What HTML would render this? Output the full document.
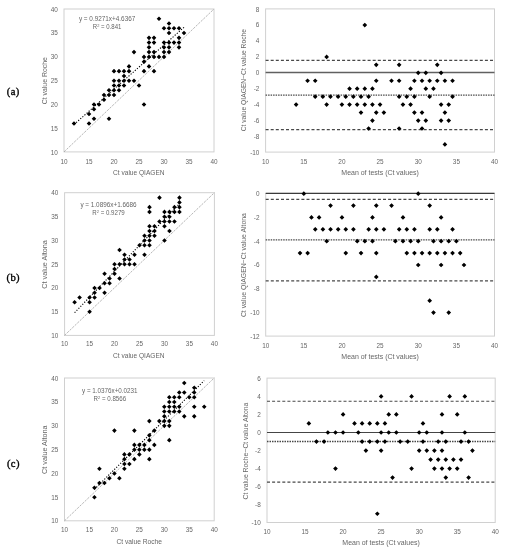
<!DOCTYPE html>
<html><head><meta charset="utf-8"><title>Figure</title>
<style>html,body{margin:0;padding:0;background:#fff}svg{display:block}text{font-family:"Liberation Sans",sans-serif;fill:#666666}.s{font-family:"Liberation Serif",serif;fill:#000;stroke:#000;stroke-width:0.35px;letter-spacing:0.35px}</style></head><body>
<svg width="507" height="550" viewBox="0 0 507 550">
<rect width="507" height="550" fill="#fff"/>
<rect x="64.0" y="9.0" width="150.0" height="142.9" fill="#fff" stroke="#d0d0d0" stroke-width="1"/>
<line x1="64.0" y1="151.9" x2="214.0" y2="9.0" stroke="#8f8f8f" stroke-width="0.65" stroke-dasharray="2.4 1.1"/>
<line x1="74.0" y1="124.5" x2="184.0" y2="27.3" stroke="#000" stroke-width="1.1" stroke-dasharray="1.2 1.6"/>
<path fill="#000" d="M74.00 121.27l2.30 2.30l-2.30 2.30l-2.30 -2.30zM89.00 121.27l2.30 2.30l-2.30 2.30l-2.30 -2.30zM94.00 116.51l2.30 2.30l-2.30 2.30l-2.30 -2.30zM109.00 116.51l2.30 2.30l-2.30 2.30l-2.30 -2.30zM89.00 111.74l2.30 2.30l-2.30 2.30l-2.30 -2.30zM94.00 106.98l2.30 2.30l-2.30 2.30l-2.30 -2.30zM94.00 102.22l2.30 2.30l-2.30 2.30l-2.30 -2.30zM99.00 102.22l2.30 2.30l-2.30 2.30l-2.30 -2.30zM144.00 102.22l2.30 2.30l-2.30 2.30l-2.30 -2.30zM104.00 97.45l2.30 2.30l-2.30 2.30l-2.30 -2.30zM104.00 92.69l2.30 2.30l-2.30 2.30l-2.30 -2.30zM109.00 92.69l2.30 2.30l-2.30 2.30l-2.30 -2.30zM114.00 92.69l2.30 2.30l-2.30 2.30l-2.30 -2.30zM109.00 87.93l2.30 2.30l-2.30 2.30l-2.30 -2.30zM114.00 87.93l2.30 2.30l-2.30 2.30l-2.30 -2.30zM119.00 87.93l2.30 2.30l-2.30 2.30l-2.30 -2.30zM114.00 83.16l2.30 2.30l-2.30 2.30l-2.30 -2.30zM119.00 83.16l2.30 2.30l-2.30 2.30l-2.30 -2.30zM124.00 83.16l2.30 2.30l-2.30 2.30l-2.30 -2.30zM139.00 83.16l2.30 2.30l-2.30 2.30l-2.30 -2.30zM114.00 78.40l2.30 2.30l-2.30 2.30l-2.30 -2.30zM119.00 78.40l2.30 2.30l-2.30 2.30l-2.30 -2.30zM124.00 78.40l2.30 2.30l-2.30 2.30l-2.30 -2.30zM129.00 78.40l2.30 2.30l-2.30 2.30l-2.30 -2.30zM134.00 78.40l2.30 2.30l-2.30 2.30l-2.30 -2.30zM124.00 73.64l2.30 2.30l-2.30 2.30l-2.30 -2.30zM114.00 68.87l2.30 2.30l-2.30 2.30l-2.30 -2.30zM119.00 68.87l2.30 2.30l-2.30 2.30l-2.30 -2.30zM124.00 68.87l2.30 2.30l-2.30 2.30l-2.30 -2.30zM129.00 68.87l2.30 2.30l-2.30 2.30l-2.30 -2.30zM144.00 68.87l2.30 2.30l-2.30 2.30l-2.30 -2.30zM154.00 68.87l2.30 2.30l-2.30 2.30l-2.30 -2.30zM129.00 64.11l2.30 2.30l-2.30 2.30l-2.30 -2.30zM149.00 64.11l2.30 2.30l-2.30 2.30l-2.30 -2.30zM144.00 59.35l2.30 2.30l-2.30 2.30l-2.30 -2.30zM144.00 54.58l2.30 2.30l-2.30 2.30l-2.30 -2.30zM149.00 54.58l2.30 2.30l-2.30 2.30l-2.30 -2.30zM154.00 54.58l2.30 2.30l-2.30 2.30l-2.30 -2.30zM159.00 54.58l2.30 2.30l-2.30 2.30l-2.30 -2.30zM164.00 54.58l2.30 2.30l-2.30 2.30l-2.30 -2.30zM134.00 49.82l2.30 2.30l-2.30 2.30l-2.30 -2.30zM149.00 49.82l2.30 2.30l-2.30 2.30l-2.30 -2.30zM154.00 49.82l2.30 2.30l-2.30 2.30l-2.30 -2.30zM164.00 49.82l2.30 2.30l-2.30 2.30l-2.30 -2.30zM169.00 49.82l2.30 2.30l-2.30 2.30l-2.30 -2.30zM149.00 45.06l2.30 2.30l-2.30 2.30l-2.30 -2.30zM164.00 45.06l2.30 2.30l-2.30 2.30l-2.30 -2.30zM169.00 45.06l2.30 2.30l-2.30 2.30l-2.30 -2.30zM179.00 45.06l2.30 2.30l-2.30 2.30l-2.30 -2.30zM149.00 40.29l2.30 2.30l-2.30 2.30l-2.30 -2.30zM154.00 40.29l2.30 2.30l-2.30 2.30l-2.30 -2.30zM164.00 40.29l2.30 2.30l-2.30 2.30l-2.30 -2.30zM169.00 40.29l2.30 2.30l-2.30 2.30l-2.30 -2.30zM174.00 40.29l2.30 2.30l-2.30 2.30l-2.30 -2.30zM179.00 40.29l2.30 2.30l-2.30 2.30l-2.30 -2.30zM149.00 35.53l2.30 2.30l-2.30 2.30l-2.30 -2.30zM154.00 35.53l2.30 2.30l-2.30 2.30l-2.30 -2.30zM179.00 35.53l2.30 2.30l-2.30 2.30l-2.30 -2.30zM169.00 30.77l2.30 2.30l-2.30 2.30l-2.30 -2.30zM184.00 30.77l2.30 2.30l-2.30 2.30l-2.30 -2.30zM164.00 26.00l2.30 2.30l-2.30 2.30l-2.30 -2.30zM169.00 26.00l2.30 2.30l-2.30 2.30l-2.30 -2.30zM174.00 26.00l2.30 2.30l-2.30 2.30l-2.30 -2.30zM179.00 26.00l2.30 2.30l-2.30 2.30l-2.30 -2.30zM169.00 21.24l2.30 2.30l-2.30 2.30l-2.30 -2.30zM159.00 16.48l2.30 2.30l-2.30 2.30l-2.30 -2.30z"/>
<text x="64.0" y="163.6" font-size="6.40" text-anchor="middle">10</text>
<text x="57.8" y="154.5" font-size="6.40" text-anchor="end">10</text>
<text x="89.0" y="163.6" font-size="6.40" text-anchor="middle">15</text>
<text x="57.8" y="130.7" font-size="6.40" text-anchor="end">15</text>
<text x="114.0" y="163.6" font-size="6.40" text-anchor="middle">20</text>
<text x="57.8" y="106.9" font-size="6.40" text-anchor="end">20</text>
<text x="139.0" y="163.6" font-size="6.40" text-anchor="middle">25</text>
<text x="57.8" y="83.0" font-size="6.40" text-anchor="end">25</text>
<text x="164.0" y="163.6" font-size="6.40" text-anchor="middle">30</text>
<text x="57.8" y="59.2" font-size="6.40" text-anchor="end">30</text>
<text x="189.0" y="163.6" font-size="6.40" text-anchor="middle">35</text>
<text x="57.8" y="35.4" font-size="6.40" text-anchor="end">35</text>
<text x="214.0" y="163.6" font-size="6.40" text-anchor="middle">40</text>
<text x="57.8" y="11.6" font-size="6.40" text-anchor="end">40</text>
<text x="107.1" y="21.3" font-size="6.40" text-anchor="middle" textLength="56.4" lengthAdjust="spacingAndGlyphs">y = 0.9271x+4.6367</text>
<text x="107.1" y="29.2" font-size="6.40" text-anchor="middle" textLength="28.6" lengthAdjust="spacingAndGlyphs">R<tspan dy="-2.2" font-size="4.2">2</tspan><tspan dy="2.2"> = 0.841</tspan></text>
<text x="138.8" y="174.9" font-size="6.80" text-anchor="middle" textLength="51.5" lengthAdjust="spacingAndGlyphs">Ct value QIAGEN</text>
<text transform="translate(46.8 80.7) rotate(-90)" font-size="6.80" text-anchor="middle" textLength="47.0" lengthAdjust="spacingAndGlyphs">Ct value Roche</text>
<rect x="64.6" y="192.7" width="149.8" height="142.7" fill="#fff" stroke="#d0d0d0" stroke-width="1"/>
<line x1="64.6" y1="335.3" x2="214.4" y2="192.7" stroke="#8f8f8f" stroke-width="0.65" stroke-dasharray="2.4 1.1"/>
<line x1="74.6" y1="312.7" x2="179.4" y2="203.9" stroke="#000" stroke-width="1.1" stroke-dasharray="1.2 1.6"/>
<path fill="#000" d="M74.59 299.96l2.30 2.30l-2.30 2.30l-2.30 -2.30zM79.58 295.21l2.30 2.30l-2.30 2.30l-2.30 -2.30zM89.57 309.48l2.30 2.30l-2.30 2.30l-2.30 -2.30zM89.57 299.96l2.30 2.30l-2.30 2.30l-2.30 -2.30zM89.57 295.21l2.30 2.30l-2.30 2.30l-2.30 -2.30zM94.56 295.21l2.30 2.30l-2.30 2.30l-2.30 -2.30zM94.56 290.45l2.30 2.30l-2.30 2.30l-2.30 -2.30zM94.56 285.70l2.30 2.30l-2.30 2.30l-2.30 -2.30zM99.55 285.70l2.30 2.30l-2.30 2.30l-2.30 -2.30zM104.55 290.45l2.30 2.30l-2.30 2.30l-2.30 -2.30zM104.55 280.94l2.30 2.30l-2.30 2.30l-2.30 -2.30zM109.54 280.94l2.30 2.30l-2.30 2.30l-2.30 -2.30zM109.54 276.19l2.30 2.30l-2.30 2.30l-2.30 -2.30zM104.55 271.44l2.30 2.30l-2.30 2.30l-2.30 -2.30zM114.53 271.44l2.30 2.30l-2.30 2.30l-2.30 -2.30zM119.53 276.19l2.30 2.30l-2.30 2.30l-2.30 -2.30zM114.53 266.68l2.30 2.30l-2.30 2.30l-2.30 -2.30zM114.53 261.93l2.30 2.30l-2.30 2.30l-2.30 -2.30zM119.53 261.93l2.30 2.30l-2.30 2.30l-2.30 -2.30zM124.52 261.93l2.30 2.30l-2.30 2.30l-2.30 -2.30zM129.51 261.93l2.30 2.30l-2.30 2.30l-2.30 -2.30zM134.51 261.93l2.30 2.30l-2.30 2.30l-2.30 -2.30zM124.52 257.17l2.30 2.30l-2.30 2.30l-2.30 -2.30zM129.51 257.17l2.30 2.30l-2.30 2.30l-2.30 -2.30zM124.52 252.42l2.30 2.30l-2.30 2.30l-2.30 -2.30zM134.51 252.42l2.30 2.30l-2.30 2.30l-2.30 -2.30zM144.49 252.42l2.30 2.30l-2.30 2.30l-2.30 -2.30zM119.53 247.66l2.30 2.30l-2.30 2.30l-2.30 -2.30zM139.50 242.91l2.30 2.30l-2.30 2.30l-2.30 -2.30zM144.49 242.91l2.30 2.30l-2.30 2.30l-2.30 -2.30zM149.49 242.91l2.30 2.30l-2.30 2.30l-2.30 -2.30zM144.49 238.15l2.30 2.30l-2.30 2.30l-2.30 -2.30zM149.49 238.15l2.30 2.30l-2.30 2.30l-2.30 -2.30zM164.47 238.15l2.30 2.30l-2.30 2.30l-2.30 -2.30zM144.49 233.39l2.30 2.30l-2.30 2.30l-2.30 -2.30zM149.49 233.39l2.30 2.30l-2.30 2.30l-2.30 -2.30zM154.48 233.39l2.30 2.30l-2.30 2.30l-2.30 -2.30zM149.49 228.64l2.30 2.30l-2.30 2.30l-2.30 -2.30zM154.48 228.64l2.30 2.30l-2.30 2.30l-2.30 -2.30zM169.46 228.64l2.30 2.30l-2.30 2.30l-2.30 -2.30zM149.49 223.88l2.30 2.30l-2.30 2.30l-2.30 -2.30zM154.48 223.88l2.30 2.30l-2.30 2.30l-2.30 -2.30zM164.47 223.88l2.30 2.30l-2.30 2.30l-2.30 -2.30zM159.47 219.13l2.30 2.30l-2.30 2.30l-2.30 -2.30zM164.47 219.13l2.30 2.30l-2.30 2.30l-2.30 -2.30zM169.46 219.13l2.30 2.30l-2.30 2.30l-2.30 -2.30zM174.45 219.13l2.30 2.30l-2.30 2.30l-2.30 -2.30zM164.47 214.38l2.30 2.30l-2.30 2.30l-2.30 -2.30zM169.46 214.38l2.30 2.30l-2.30 2.30l-2.30 -2.30zM149.49 209.62l2.30 2.30l-2.30 2.30l-2.30 -2.30zM164.47 209.62l2.30 2.30l-2.30 2.30l-2.30 -2.30zM169.46 209.62l2.30 2.30l-2.30 2.30l-2.30 -2.30zM174.45 209.62l2.30 2.30l-2.30 2.30l-2.30 -2.30zM179.45 209.62l2.30 2.30l-2.30 2.30l-2.30 -2.30zM149.49 204.87l2.30 2.30l-2.30 2.30l-2.30 -2.30zM174.45 204.87l2.30 2.30l-2.30 2.30l-2.30 -2.30zM179.45 204.87l2.30 2.30l-2.30 2.30l-2.30 -2.30zM179.45 200.11l2.30 2.30l-2.30 2.30l-2.30 -2.30zM159.47 195.35l2.30 2.30l-2.30 2.30l-2.30 -2.30zM179.45 195.35l2.30 2.30l-2.30 2.30l-2.30 -2.30z"/>
<text x="64.6" y="346.3" font-size="6.40" text-anchor="middle">10</text>
<text x="58.4" y="337.9" font-size="6.40" text-anchor="end">10</text>
<text x="89.6" y="346.3" font-size="6.40" text-anchor="middle">15</text>
<text x="58.4" y="314.1" font-size="6.40" text-anchor="end">15</text>
<text x="114.5" y="346.3" font-size="6.40" text-anchor="middle">20</text>
<text x="58.4" y="290.4" font-size="6.40" text-anchor="end">20</text>
<text x="139.5" y="346.3" font-size="6.40" text-anchor="middle">25</text>
<text x="58.4" y="266.6" font-size="6.40" text-anchor="end">25</text>
<text x="164.5" y="346.3" font-size="6.40" text-anchor="middle">30</text>
<text x="58.4" y="242.8" font-size="6.40" text-anchor="end">30</text>
<text x="189.4" y="346.3" font-size="6.40" text-anchor="middle">35</text>
<text x="58.4" y="219.0" font-size="6.40" text-anchor="end">35</text>
<text x="214.4" y="346.3" font-size="6.40" text-anchor="middle">40</text>
<text x="58.4" y="195.2" font-size="6.40" text-anchor="end">40</text>
<text x="108.5" y="207.3" font-size="6.40" text-anchor="middle" textLength="56.2" lengthAdjust="spacingAndGlyphs">y = 1.0896x+1.6686</text>
<text x="108.5" y="215.1" font-size="6.40" text-anchor="middle" textLength="32.5" lengthAdjust="spacingAndGlyphs">R<tspan dy="-2.2" font-size="4.2">2</tspan><tspan dy="2.2"> = 0.9279</tspan></text>
<text x="138.8" y="358.1" font-size="6.80" text-anchor="middle" textLength="51.5" lengthAdjust="spacingAndGlyphs">Ct value QIAGEN</text>
<text transform="translate(47.0 264.4) rotate(-90)" font-size="6.80" text-anchor="middle" textLength="48.5" lengthAdjust="spacingAndGlyphs">Ct value Altona</text>
<rect x="64.5" y="378.0" width="149.7" height="142.8" fill="#fff" stroke="#d0d0d0" stroke-width="1"/>
<line x1="64.5" y1="520.8" x2="214.2" y2="378.0" stroke="#8f8f8f" stroke-width="0.65" stroke-dasharray="2.4 1.1"/>
<line x1="94.4" y1="489.3" x2="204.2" y2="380.6" stroke="#000" stroke-width="1.1" stroke-dasharray="1.2 1.6"/>
<path fill="#000" d="M94.44 494.95l2.30 2.30l-2.30 2.30l-2.30 -2.30zM94.44 485.43l2.30 2.30l-2.30 2.30l-2.30 -2.30zM99.43 480.67l2.30 2.30l-2.30 2.30l-2.30 -2.30zM99.43 466.39l2.30 2.30l-2.30 2.30l-2.30 -2.30zM104.42 480.67l2.30 2.30l-2.30 2.30l-2.30 -2.30zM109.41 475.91l2.30 2.30l-2.30 2.30l-2.30 -2.30zM114.40 471.15l2.30 2.30l-2.30 2.30l-2.30 -2.30zM119.39 475.91l2.30 2.30l-2.30 2.30l-2.30 -2.30zM124.38 466.39l2.30 2.30l-2.30 2.30l-2.30 -2.30zM124.38 461.63l2.30 2.30l-2.30 2.30l-2.30 -2.30zM129.37 461.63l2.30 2.30l-2.30 2.30l-2.30 -2.30zM124.38 456.87l2.30 2.30l-2.30 2.30l-2.30 -2.30zM134.36 456.87l2.30 2.30l-2.30 2.30l-2.30 -2.30zM149.33 456.87l2.30 2.30l-2.30 2.30l-2.30 -2.30zM124.38 452.11l2.30 2.30l-2.30 2.30l-2.30 -2.30zM129.37 452.11l2.30 2.30l-2.30 2.30l-2.30 -2.30zM139.35 452.11l2.30 2.30l-2.30 2.30l-2.30 -2.30zM134.36 447.35l2.30 2.30l-2.30 2.30l-2.30 -2.30zM139.35 447.35l2.30 2.30l-2.30 2.30l-2.30 -2.30zM144.34 447.35l2.30 2.30l-2.30 2.30l-2.30 -2.30zM149.33 447.35l2.30 2.30l-2.30 2.30l-2.30 -2.30zM134.36 442.59l2.30 2.30l-2.30 2.30l-2.30 -2.30zM139.35 442.59l2.30 2.30l-2.30 2.30l-2.30 -2.30zM144.34 442.59l2.30 2.30l-2.30 2.30l-2.30 -2.30zM154.32 442.59l2.30 2.30l-2.30 2.30l-2.30 -2.30zM149.33 437.83l2.30 2.30l-2.30 2.30l-2.30 -2.30zM169.29 437.83l2.30 2.30l-2.30 2.30l-2.30 -2.30zM149.33 433.07l2.30 2.30l-2.30 2.30l-2.30 -2.30zM114.40 428.31l2.30 2.30l-2.30 2.30l-2.30 -2.30zM134.36 428.31l2.30 2.30l-2.30 2.30l-2.30 -2.30zM154.32 428.31l2.30 2.30l-2.30 2.30l-2.30 -2.30zM164.30 423.55l2.30 2.30l-2.30 2.30l-2.30 -2.30zM169.29 423.55l2.30 2.30l-2.30 2.30l-2.30 -2.30zM149.33 418.79l2.30 2.30l-2.30 2.30l-2.30 -2.30zM159.31 418.79l2.30 2.30l-2.30 2.30l-2.30 -2.30zM164.30 418.79l2.30 2.30l-2.30 2.30l-2.30 -2.30zM169.29 418.79l2.30 2.30l-2.30 2.30l-2.30 -2.30zM164.30 414.03l2.30 2.30l-2.30 2.30l-2.30 -2.30zM184.26 414.03l2.30 2.30l-2.30 2.30l-2.30 -2.30zM194.24 414.03l2.30 2.30l-2.30 2.30l-2.30 -2.30zM164.30 409.27l2.30 2.30l-2.30 2.30l-2.30 -2.30zM169.29 409.27l2.30 2.30l-2.30 2.30l-2.30 -2.30zM174.28 409.27l2.30 2.30l-2.30 2.30l-2.30 -2.30zM179.27 409.27l2.30 2.30l-2.30 2.30l-2.30 -2.30zM164.30 404.51l2.30 2.30l-2.30 2.30l-2.30 -2.30zM169.29 404.51l2.30 2.30l-2.30 2.30l-2.30 -2.30zM174.28 404.51l2.30 2.30l-2.30 2.30l-2.30 -2.30zM179.27 404.51l2.30 2.30l-2.30 2.30l-2.30 -2.30zM194.24 404.51l2.30 2.30l-2.30 2.30l-2.30 -2.30zM204.22 404.51l2.30 2.30l-2.30 2.30l-2.30 -2.30zM169.29 399.75l2.30 2.30l-2.30 2.30l-2.30 -2.30zM174.28 399.75l2.30 2.30l-2.30 2.30l-2.30 -2.30zM169.29 394.99l2.30 2.30l-2.30 2.30l-2.30 -2.30zM174.28 394.99l2.30 2.30l-2.30 2.30l-2.30 -2.30zM179.27 394.99l2.30 2.30l-2.30 2.30l-2.30 -2.30zM189.25 394.99l2.30 2.30l-2.30 2.30l-2.30 -2.30zM194.24 394.99l2.30 2.30l-2.30 2.30l-2.30 -2.30zM179.27 390.23l2.30 2.30l-2.30 2.30l-2.30 -2.30zM184.26 390.23l2.30 2.30l-2.30 2.30l-2.30 -2.30zM194.24 390.23l2.30 2.30l-2.30 2.30l-2.30 -2.30zM194.24 385.47l2.30 2.30l-2.30 2.30l-2.30 -2.30zM184.26 380.71l2.30 2.30l-2.30 2.30l-2.30 -2.30z"/>
<text x="64.5" y="532.3" font-size="6.40" text-anchor="middle">10</text>
<text x="58.3" y="523.4" font-size="6.40" text-anchor="end">10</text>
<text x="89.4" y="532.3" font-size="6.40" text-anchor="middle">15</text>
<text x="58.3" y="499.6" font-size="6.40" text-anchor="end">15</text>
<text x="114.4" y="532.3" font-size="6.40" text-anchor="middle">20</text>
<text x="58.3" y="475.8" font-size="6.40" text-anchor="end">20</text>
<text x="139.3" y="532.3" font-size="6.40" text-anchor="middle">25</text>
<text x="58.3" y="452.0" font-size="6.40" text-anchor="end">25</text>
<text x="164.3" y="532.3" font-size="6.40" text-anchor="middle">30</text>
<text x="58.3" y="428.2" font-size="6.40" text-anchor="end">30</text>
<text x="189.2" y="532.3" font-size="6.40" text-anchor="middle">35</text>
<text x="58.3" y="404.4" font-size="6.40" text-anchor="end">35</text>
<text x="214.2" y="532.3" font-size="6.40" text-anchor="middle">40</text>
<text x="58.3" y="380.6" font-size="6.40" text-anchor="end">40</text>
<text x="109.8" y="392.6" font-size="6.40" text-anchor="middle" textLength="55.6" lengthAdjust="spacingAndGlyphs">y = 1.0376x+0.0231</text>
<text x="109.8" y="400.7" font-size="6.40" text-anchor="middle" textLength="32.6" lengthAdjust="spacingAndGlyphs">R<tspan dy="-2.2" font-size="4.2">2</tspan><tspan dy="2.2"> = 0.8566</tspan></text>
<text x="139.2" y="543.6" font-size="6.80" text-anchor="middle" textLength="45.6" lengthAdjust="spacingAndGlyphs">Ct value Roche</text>
<text transform="translate(46.6 449.7) rotate(-90)" font-size="6.80" text-anchor="middle" textLength="48.5" lengthAdjust="spacingAndGlyphs">Ct value Altona</text>
<rect x="265.6" y="8.9" width="228.9" height="143.2" fill="#fff" stroke="#d0d0d0" stroke-width="1"/>
<line x1="265.6" y1="72.6" x2="494.5" y2="72.6" stroke="#606060" stroke-width="1.50"/>
<line x1="265.6" y1="60.4" x2="494.5" y2="60.4" stroke="#484848" stroke-width="1.30" stroke-dasharray="3 2.1"/>
<line x1="265.6" y1="129.6" x2="494.5" y2="129.6" stroke="#484848" stroke-width="1.30" stroke-dasharray="3 2.1"/>
<line x1="265.6" y1="95.1" x2="494.5" y2="95.1" stroke="#484848" stroke-width="1.3" stroke-dasharray="1.5 1"/>
<path fill="#000" d="M296.12 102.27l2.35 2.35l-2.35 2.35l-2.35 -2.35zM307.56 78.40l2.35 2.35l-2.35 2.35l-2.35 -2.35zM315.19 94.31l2.35 2.35l-2.35 2.35l-2.35 -2.35zM315.19 78.40l2.35 2.35l-2.35 2.35l-2.35 -2.35zM322.83 94.31l2.35 2.35l-2.35 2.35l-2.35 -2.35zM326.64 102.27l2.35 2.35l-2.35 2.35l-2.35 -2.35zM326.64 54.53l2.35 2.35l-2.35 2.35l-2.35 -2.35zM330.46 94.31l2.35 2.35l-2.35 2.35l-2.35 -2.35zM338.09 94.31l2.35 2.35l-2.35 2.35l-2.35 -2.35zM341.90 102.27l2.35 2.35l-2.35 2.35l-2.35 -2.35zM345.72 94.31l2.35 2.35l-2.35 2.35l-2.35 -2.35zM349.53 102.27l2.35 2.35l-2.35 2.35l-2.35 -2.35zM349.53 86.36l2.35 2.35l-2.35 2.35l-2.35 -2.35zM353.35 94.31l2.35 2.35l-2.35 2.35l-2.35 -2.35zM357.16 102.27l2.35 2.35l-2.35 2.35l-2.35 -2.35zM357.16 86.36l2.35 2.35l-2.35 2.35l-2.35 -2.35zM360.98 110.22l2.35 2.35l-2.35 2.35l-2.35 -2.35zM360.98 94.31l2.35 2.35l-2.35 2.35l-2.35 -2.35zM364.79 102.27l2.35 2.35l-2.35 2.35l-2.35 -2.35zM364.79 86.36l2.35 2.35l-2.35 2.35l-2.35 -2.35zM364.79 22.71l2.35 2.35l-2.35 2.35l-2.35 -2.35zM368.61 126.13l2.35 2.35l-2.35 2.35l-2.35 -2.35zM368.61 94.31l2.35 2.35l-2.35 2.35l-2.35 -2.35zM372.42 118.18l2.35 2.35l-2.35 2.35l-2.35 -2.35zM372.42 102.27l2.35 2.35l-2.35 2.35l-2.35 -2.35zM372.42 86.36l2.35 2.35l-2.35 2.35l-2.35 -2.35zM376.24 110.22l2.35 2.35l-2.35 2.35l-2.35 -2.35zM376.24 78.40l2.35 2.35l-2.35 2.35l-2.35 -2.35zM376.24 62.49l2.35 2.35l-2.35 2.35l-2.35 -2.35zM380.05 102.27l2.35 2.35l-2.35 2.35l-2.35 -2.35zM383.87 110.22l2.35 2.35l-2.35 2.35l-2.35 -2.35zM391.50 78.40l2.35 2.35l-2.35 2.35l-2.35 -2.35zM399.12 126.13l2.35 2.35l-2.35 2.35l-2.35 -2.35zM399.12 94.31l2.35 2.35l-2.35 2.35l-2.35 -2.35zM399.12 78.40l2.35 2.35l-2.35 2.35l-2.35 -2.35zM399.12 62.49l2.35 2.35l-2.35 2.35l-2.35 -2.35zM402.94 102.27l2.35 2.35l-2.35 2.35l-2.35 -2.35zM406.75 94.31l2.35 2.35l-2.35 2.35l-2.35 -2.35zM410.57 102.27l2.35 2.35l-2.35 2.35l-2.35 -2.35zM410.57 86.36l2.35 2.35l-2.35 2.35l-2.35 -2.35zM414.38 110.22l2.35 2.35l-2.35 2.35l-2.35 -2.35zM414.38 94.31l2.35 2.35l-2.35 2.35l-2.35 -2.35zM414.38 78.40l2.35 2.35l-2.35 2.35l-2.35 -2.35zM418.20 118.18l2.35 2.35l-2.35 2.35l-2.35 -2.35zM418.20 70.44l2.35 2.35l-2.35 2.35l-2.35 -2.35zM422.01 126.13l2.35 2.35l-2.35 2.35l-2.35 -2.35zM422.01 110.22l2.35 2.35l-2.35 2.35l-2.35 -2.35zM422.01 78.40l2.35 2.35l-2.35 2.35l-2.35 -2.35zM425.83 118.18l2.35 2.35l-2.35 2.35l-2.35 -2.35zM425.83 86.36l2.35 2.35l-2.35 2.35l-2.35 -2.35zM425.83 70.44l2.35 2.35l-2.35 2.35l-2.35 -2.35zM429.64 94.31l2.35 2.35l-2.35 2.35l-2.35 -2.35zM429.64 78.40l2.35 2.35l-2.35 2.35l-2.35 -2.35zM433.46 86.36l2.35 2.35l-2.35 2.35l-2.35 -2.35zM437.27 78.40l2.35 2.35l-2.35 2.35l-2.35 -2.35zM437.27 62.49l2.35 2.35l-2.35 2.35l-2.35 -2.35zM441.09 118.18l2.35 2.35l-2.35 2.35l-2.35 -2.35zM441.09 102.27l2.35 2.35l-2.35 2.35l-2.35 -2.35zM441.09 70.44l2.35 2.35l-2.35 2.35l-2.35 -2.35zM444.90 142.04l2.35 2.35l-2.35 2.35l-2.35 -2.35zM444.90 110.22l2.35 2.35l-2.35 2.35l-2.35 -2.35zM444.90 78.40l2.35 2.35l-2.35 2.35l-2.35 -2.35zM448.72 118.18l2.35 2.35l-2.35 2.35l-2.35 -2.35zM448.72 102.27l2.35 2.35l-2.35 2.35l-2.35 -2.35zM452.53 94.31l2.35 2.35l-2.35 2.35l-2.35 -2.35zM452.53 78.40l2.35 2.35l-2.35 2.35l-2.35 -2.35z"/>
<text x="265.6" y="163.6" font-size="6.40" text-anchor="middle">10</text>
<text x="303.8" y="163.6" font-size="6.40" text-anchor="middle">15</text>
<text x="341.9" y="163.6" font-size="6.40" text-anchor="middle">20</text>
<text x="380.1" y="163.6" font-size="6.40" text-anchor="middle">25</text>
<text x="418.2" y="163.6" font-size="6.40" text-anchor="middle">30</text>
<text x="456.4" y="163.6" font-size="6.40" text-anchor="middle">35</text>
<text x="494.5" y="163.6" font-size="6.40" text-anchor="middle">40</text>
<text x="259.4" y="11.5" font-size="6.40" text-anchor="end">8</text>
<text x="259.4" y="27.4" font-size="6.40" text-anchor="end">6</text>
<text x="259.4" y="43.3" font-size="6.40" text-anchor="end">4</text>
<text x="259.4" y="59.2" font-size="6.40" text-anchor="end">2</text>
<text x="259.4" y="75.1" font-size="6.40" text-anchor="end">0</text>
<text x="259.4" y="91.1" font-size="6.40" text-anchor="end">-2</text>
<text x="259.4" y="107.0" font-size="6.40" text-anchor="end">-4</text>
<text x="259.4" y="122.9" font-size="6.40" text-anchor="end">-6</text>
<text x="259.4" y="138.8" font-size="6.40" text-anchor="end">-8</text>
<text x="259.4" y="154.7" font-size="6.40" text-anchor="end">-10</text>
<text x="380.1" y="175.1" font-size="6.80" text-anchor="middle" textLength="77.5" lengthAdjust="spacingAndGlyphs">Mean of tests (Ct values)</text>
<text transform="translate(246.4 80.2) rotate(-90)" font-size="6.80" text-anchor="middle" textLength="102.3" lengthAdjust="spacingAndGlyphs">Ct value QIAGEN−Ct value Roche</text>
<rect x="265.7" y="193.4" width="228.8" height="142.7" fill="#fff" stroke="#d0d0d0" stroke-width="1"/>
<line x1="265.7" y1="193.4" x2="494.5" y2="193.4" stroke="#3a3a3a" stroke-width="1.30"/>
<line x1="265.7" y1="199.3" x2="494.5" y2="199.3" stroke="#484848" stroke-width="1.25" stroke-dasharray="3 2.1"/>
<line x1="265.7" y1="280.8" x2="494.5" y2="280.8" stroke="#484848" stroke-width="1.25" stroke-dasharray="3 2.1"/>
<line x1="265.7" y1="239.8" x2="494.5" y2="239.8" stroke="#484848" stroke-width="1.3" stroke-dasharray="1.5 1"/>
<path fill="#000" d="M300.02 250.76l2.35 2.35l-2.35 2.35l-2.35 -2.35zM303.83 191.30l2.35 2.35l-2.35 2.35l-2.35 -2.35zM307.65 250.76l2.35 2.35l-2.35 2.35l-2.35 -2.35zM311.46 215.08l2.35 2.35l-2.35 2.35l-2.35 -2.35zM315.27 226.98l2.35 2.35l-2.35 2.35l-2.35 -2.35zM319.09 215.08l2.35 2.35l-2.35 2.35l-2.35 -2.35zM322.90 226.98l2.35 2.35l-2.35 2.35l-2.35 -2.35zM326.71 238.87l2.35 2.35l-2.35 2.35l-2.35 -2.35zM330.53 226.98l2.35 2.35l-2.35 2.35l-2.35 -2.35zM330.53 203.19l2.35 2.35l-2.35 2.35l-2.35 -2.35zM338.15 226.98l2.35 2.35l-2.35 2.35l-2.35 -2.35zM341.97 215.08l2.35 2.35l-2.35 2.35l-2.35 -2.35zM345.78 250.76l2.35 2.35l-2.35 2.35l-2.35 -2.35zM345.78 226.98l2.35 2.35l-2.35 2.35l-2.35 -2.35zM353.41 226.98l2.35 2.35l-2.35 2.35l-2.35 -2.35zM353.41 203.19l2.35 2.35l-2.35 2.35l-2.35 -2.35zM357.22 238.87l2.35 2.35l-2.35 2.35l-2.35 -2.35zM361.03 250.76l2.35 2.35l-2.35 2.35l-2.35 -2.35zM364.85 238.87l2.35 2.35l-2.35 2.35l-2.35 -2.35zM368.66 226.98l2.35 2.35l-2.35 2.35l-2.35 -2.35zM372.47 238.87l2.35 2.35l-2.35 2.35l-2.35 -2.35zM372.47 215.08l2.35 2.35l-2.35 2.35l-2.35 -2.35zM376.29 274.54l2.35 2.35l-2.35 2.35l-2.35 -2.35zM376.29 250.76l2.35 2.35l-2.35 2.35l-2.35 -2.35zM376.29 226.98l2.35 2.35l-2.35 2.35l-2.35 -2.35zM376.29 203.19l2.35 2.35l-2.35 2.35l-2.35 -2.35zM383.91 226.98l2.35 2.35l-2.35 2.35l-2.35 -2.35zM391.54 203.19l2.35 2.35l-2.35 2.35l-2.35 -2.35zM395.35 238.87l2.35 2.35l-2.35 2.35l-2.35 -2.35zM399.17 226.98l2.35 2.35l-2.35 2.35l-2.35 -2.35zM402.98 238.87l2.35 2.35l-2.35 2.35l-2.35 -2.35zM402.98 215.08l2.35 2.35l-2.35 2.35l-2.35 -2.35zM406.79 250.76l2.35 2.35l-2.35 2.35l-2.35 -2.35zM406.79 226.98l2.35 2.35l-2.35 2.35l-2.35 -2.35zM410.61 238.87l2.35 2.35l-2.35 2.35l-2.35 -2.35zM414.42 250.76l2.35 2.35l-2.35 2.35l-2.35 -2.35zM414.42 226.98l2.35 2.35l-2.35 2.35l-2.35 -2.35zM418.23 262.65l2.35 2.35l-2.35 2.35l-2.35 -2.35zM418.23 238.87l2.35 2.35l-2.35 2.35l-2.35 -2.35zM418.23 191.30l2.35 2.35l-2.35 2.35l-2.35 -2.35zM422.05 250.76l2.35 2.35l-2.35 2.35l-2.35 -2.35zM429.67 298.32l2.35 2.35l-2.35 2.35l-2.35 -2.35zM429.67 250.76l2.35 2.35l-2.35 2.35l-2.35 -2.35zM429.67 226.98l2.35 2.35l-2.35 2.35l-2.35 -2.35zM429.67 203.19l2.35 2.35l-2.35 2.35l-2.35 -2.35zM433.49 310.22l2.35 2.35l-2.35 2.35l-2.35 -2.35zM433.49 238.87l2.35 2.35l-2.35 2.35l-2.35 -2.35zM437.30 250.76l2.35 2.35l-2.35 2.35l-2.35 -2.35zM437.30 226.98l2.35 2.35l-2.35 2.35l-2.35 -2.35zM441.11 262.65l2.35 2.35l-2.35 2.35l-2.35 -2.35zM441.11 238.87l2.35 2.35l-2.35 2.35l-2.35 -2.35zM441.11 215.08l2.35 2.35l-2.35 2.35l-2.35 -2.35zM444.93 250.76l2.35 2.35l-2.35 2.35l-2.35 -2.35zM448.74 310.22l2.35 2.35l-2.35 2.35l-2.35 -2.35zM448.74 238.87l2.35 2.35l-2.35 2.35l-2.35 -2.35zM452.55 250.76l2.35 2.35l-2.35 2.35l-2.35 -2.35zM452.55 226.98l2.35 2.35l-2.35 2.35l-2.35 -2.35zM456.37 238.87l2.35 2.35l-2.35 2.35l-2.35 -2.35zM460.18 250.76l2.35 2.35l-2.35 2.35l-2.35 -2.35zM463.99 262.65l2.35 2.35l-2.35 2.35l-2.35 -2.35z"/>
<text x="265.7" y="347.5" font-size="6.40" text-anchor="middle">10</text>
<text x="303.8" y="347.5" font-size="6.40" text-anchor="middle">15</text>
<text x="342.0" y="347.5" font-size="6.40" text-anchor="middle">20</text>
<text x="380.1" y="347.5" font-size="6.40" text-anchor="middle">25</text>
<text x="418.2" y="347.5" font-size="6.40" text-anchor="middle">30</text>
<text x="456.4" y="347.5" font-size="6.40" text-anchor="middle">35</text>
<text x="494.5" y="347.5" font-size="6.40" text-anchor="middle">40</text>
<text x="259.5" y="196.0" font-size="6.40" text-anchor="end">0</text>
<text x="259.5" y="219.8" font-size="6.40" text-anchor="end">-2</text>
<text x="259.5" y="243.6" font-size="6.40" text-anchor="end">-4</text>
<text x="259.5" y="267.4" font-size="6.40" text-anchor="end">-6</text>
<text x="259.5" y="291.1" font-size="6.40" text-anchor="end">-8</text>
<text x="259.5" y="314.9" font-size="6.40" text-anchor="end">-10</text>
<text x="259.5" y="338.7" font-size="6.40" text-anchor="end">-12</text>
<text x="380.1" y="358.7" font-size="6.80" text-anchor="middle" textLength="77.5" lengthAdjust="spacingAndGlyphs">Mean of tests (Ct values)</text>
<text transform="translate(246.4 265.1) rotate(-90)" font-size="6.80" text-anchor="middle" textLength="104.0" lengthAdjust="spacingAndGlyphs">Ct value QIAGEN−Ct value Altona</text>
<rect x="267.0" y="378.1" width="228.2" height="144.4" fill="#fff" stroke="#d0d0d0" stroke-width="1"/>
<line x1="267.0" y1="432.5" x2="495.2" y2="432.5" stroke="#454545" stroke-width="1.15"/>
<line x1="267.0" y1="401.3" x2="495.2" y2="401.3" stroke="#484848" stroke-width="1.10" stroke-dasharray="3 2.1"/>
<line x1="267.0" y1="482.1" x2="495.2" y2="482.1" stroke="#484848" stroke-width="1.10" stroke-dasharray="3 2.1"/>
<line x1="267.0" y1="441.5" x2="495.2" y2="441.5" stroke="#484848" stroke-width="1.3" stroke-dasharray="1.5 1"/>
<path fill="#000" d="M308.85 421.12l2.35 2.35l-2.35 2.35l-2.35 -2.35zM316.45 439.18l2.35 2.35l-2.35 2.35l-2.35 -2.35zM324.06 439.18l2.35 2.35l-2.35 2.35l-2.35 -2.35zM327.87 430.15l2.35 2.35l-2.35 2.35l-2.35 -2.35zM335.48 466.25l2.35 2.35l-2.35 2.35l-2.35 -2.35zM335.48 430.15l2.35 2.35l-2.35 2.35l-2.35 -2.35zM343.08 430.15l2.35 2.35l-2.35 2.35l-2.35 -2.35zM343.08 412.10l2.35 2.35l-2.35 2.35l-2.35 -2.35zM354.50 421.12l2.35 2.35l-2.35 2.35l-2.35 -2.35zM358.30 430.15l2.35 2.35l-2.35 2.35l-2.35 -2.35zM362.10 439.18l2.35 2.35l-2.35 2.35l-2.35 -2.35zM362.10 421.12l2.35 2.35l-2.35 2.35l-2.35 -2.35zM365.91 448.20l2.35 2.35l-2.35 2.35l-2.35 -2.35zM369.71 439.18l2.35 2.35l-2.35 2.35l-2.35 -2.35zM369.71 421.12l2.35 2.35l-2.35 2.35l-2.35 -2.35zM377.32 511.38l2.35 2.35l-2.35 2.35l-2.35 -2.35zM377.32 439.18l2.35 2.35l-2.35 2.35l-2.35 -2.35zM377.32 421.12l2.35 2.35l-2.35 2.35l-2.35 -2.35zM381.12 448.20l2.35 2.35l-2.35 2.35l-2.35 -2.35zM381.12 430.15l2.35 2.35l-2.35 2.35l-2.35 -2.35zM381.12 394.05l2.35 2.35l-2.35 2.35l-2.35 -2.35zM384.93 439.18l2.35 2.35l-2.35 2.35l-2.35 -2.35zM384.93 421.12l2.35 2.35l-2.35 2.35l-2.35 -2.35zM388.73 430.15l2.35 2.35l-2.35 2.35l-2.35 -2.35zM388.73 412.10l2.35 2.35l-2.35 2.35l-2.35 -2.35zM392.54 475.27l2.35 2.35l-2.35 2.35l-2.35 -2.35zM396.34 430.15l2.35 2.35l-2.35 2.35l-2.35 -2.35zM396.34 412.10l2.35 2.35l-2.35 2.35l-2.35 -2.35zM400.15 439.18l2.35 2.35l-2.35 2.35l-2.35 -2.35zM407.75 439.18l2.35 2.35l-2.35 2.35l-2.35 -2.35zM411.56 466.25l2.35 2.35l-2.35 2.35l-2.35 -2.35zM411.56 394.05l2.35 2.35l-2.35 2.35l-2.35 -2.35zM419.17 448.20l2.35 2.35l-2.35 2.35l-2.35 -2.35zM419.17 430.15l2.35 2.35l-2.35 2.35l-2.35 -2.35zM422.97 439.18l2.35 2.35l-2.35 2.35l-2.35 -2.35zM422.97 421.12l2.35 2.35l-2.35 2.35l-2.35 -2.35zM426.77 448.20l2.35 2.35l-2.35 2.35l-2.35 -2.35zM426.77 430.15l2.35 2.35l-2.35 2.35l-2.35 -2.35zM430.58 457.23l2.35 2.35l-2.35 2.35l-2.35 -2.35zM434.38 466.25l2.35 2.35l-2.35 2.35l-2.35 -2.35zM434.38 448.20l2.35 2.35l-2.35 2.35l-2.35 -2.35zM438.19 457.23l2.35 2.35l-2.35 2.35l-2.35 -2.35zM438.19 439.18l2.35 2.35l-2.35 2.35l-2.35 -2.35zM441.99 466.25l2.35 2.35l-2.35 2.35l-2.35 -2.35zM441.99 448.20l2.35 2.35l-2.35 2.35l-2.35 -2.35zM441.99 430.15l2.35 2.35l-2.35 2.35l-2.35 -2.35zM441.99 412.10l2.35 2.35l-2.35 2.35l-2.35 -2.35zM445.80 475.27l2.35 2.35l-2.35 2.35l-2.35 -2.35zM445.80 457.23l2.35 2.35l-2.35 2.35l-2.35 -2.35zM445.80 439.18l2.35 2.35l-2.35 2.35l-2.35 -2.35zM449.60 466.25l2.35 2.35l-2.35 2.35l-2.35 -2.35zM449.60 394.05l2.35 2.35l-2.35 2.35l-2.35 -2.35zM453.40 457.23l2.35 2.35l-2.35 2.35l-2.35 -2.35zM457.21 466.25l2.35 2.35l-2.35 2.35l-2.35 -2.35zM457.21 412.10l2.35 2.35l-2.35 2.35l-2.35 -2.35zM461.01 457.23l2.35 2.35l-2.35 2.35l-2.35 -2.35zM461.01 439.18l2.35 2.35l-2.35 2.35l-2.35 -2.35zM464.82 430.15l2.35 2.35l-2.35 2.35l-2.35 -2.35zM464.82 394.05l2.35 2.35l-2.35 2.35l-2.35 -2.35zM468.62 475.27l2.35 2.35l-2.35 2.35l-2.35 -2.35zM468.62 439.18l2.35 2.35l-2.35 2.35l-2.35 -2.35zM472.43 448.20l2.35 2.35l-2.35 2.35l-2.35 -2.35z"/>
<text x="267.0" y="534.1" font-size="6.40" text-anchor="middle">10</text>
<text x="305.0" y="534.1" font-size="6.40" text-anchor="middle">15</text>
<text x="343.1" y="534.1" font-size="6.40" text-anchor="middle">20</text>
<text x="381.1" y="534.1" font-size="6.40" text-anchor="middle">25</text>
<text x="419.2" y="534.1" font-size="6.40" text-anchor="middle">30</text>
<text x="457.2" y="534.1" font-size="6.40" text-anchor="middle">35</text>
<text x="495.2" y="534.1" font-size="6.40" text-anchor="middle">40</text>
<text x="260.8" y="380.7" font-size="6.40" text-anchor="end">6</text>
<text x="260.8" y="398.8" font-size="6.40" text-anchor="end">4</text>
<text x="260.8" y="416.8" font-size="6.40" text-anchor="end">2</text>
<text x="260.8" y="434.9" font-size="6.40" text-anchor="end">0</text>
<text x="260.8" y="452.9" font-size="6.40" text-anchor="end">-2</text>
<text x="260.8" y="471.0" font-size="6.40" text-anchor="end">-4</text>
<text x="260.8" y="489.0" font-size="6.40" text-anchor="end">-6</text>
<text x="260.8" y="507.1" font-size="6.40" text-anchor="end">-8</text>
<text x="260.8" y="525.1" font-size="6.40" text-anchor="end">-10</text>
<text x="381.1" y="545.3" font-size="6.80" text-anchor="middle" textLength="77.5" lengthAdjust="spacingAndGlyphs">Mean of tests (Ct values)</text>
<text transform="translate(247.5 451.0) rotate(-90)" font-size="6.80" text-anchor="middle" textLength="96.8" lengthAdjust="spacingAndGlyphs">Ct value Roche−Ct value Altona</text>
<text x="13.2" y="95.4" font-size="10.60" text-anchor="middle" class="s">(a)</text>
<text x="13.3" y="281.4" font-size="10.60" text-anchor="middle" class="s">(b)</text>
<text x="13.4" y="466.9" font-size="10.60" text-anchor="middle" class="s">(c)</text>
</svg></body></html>
